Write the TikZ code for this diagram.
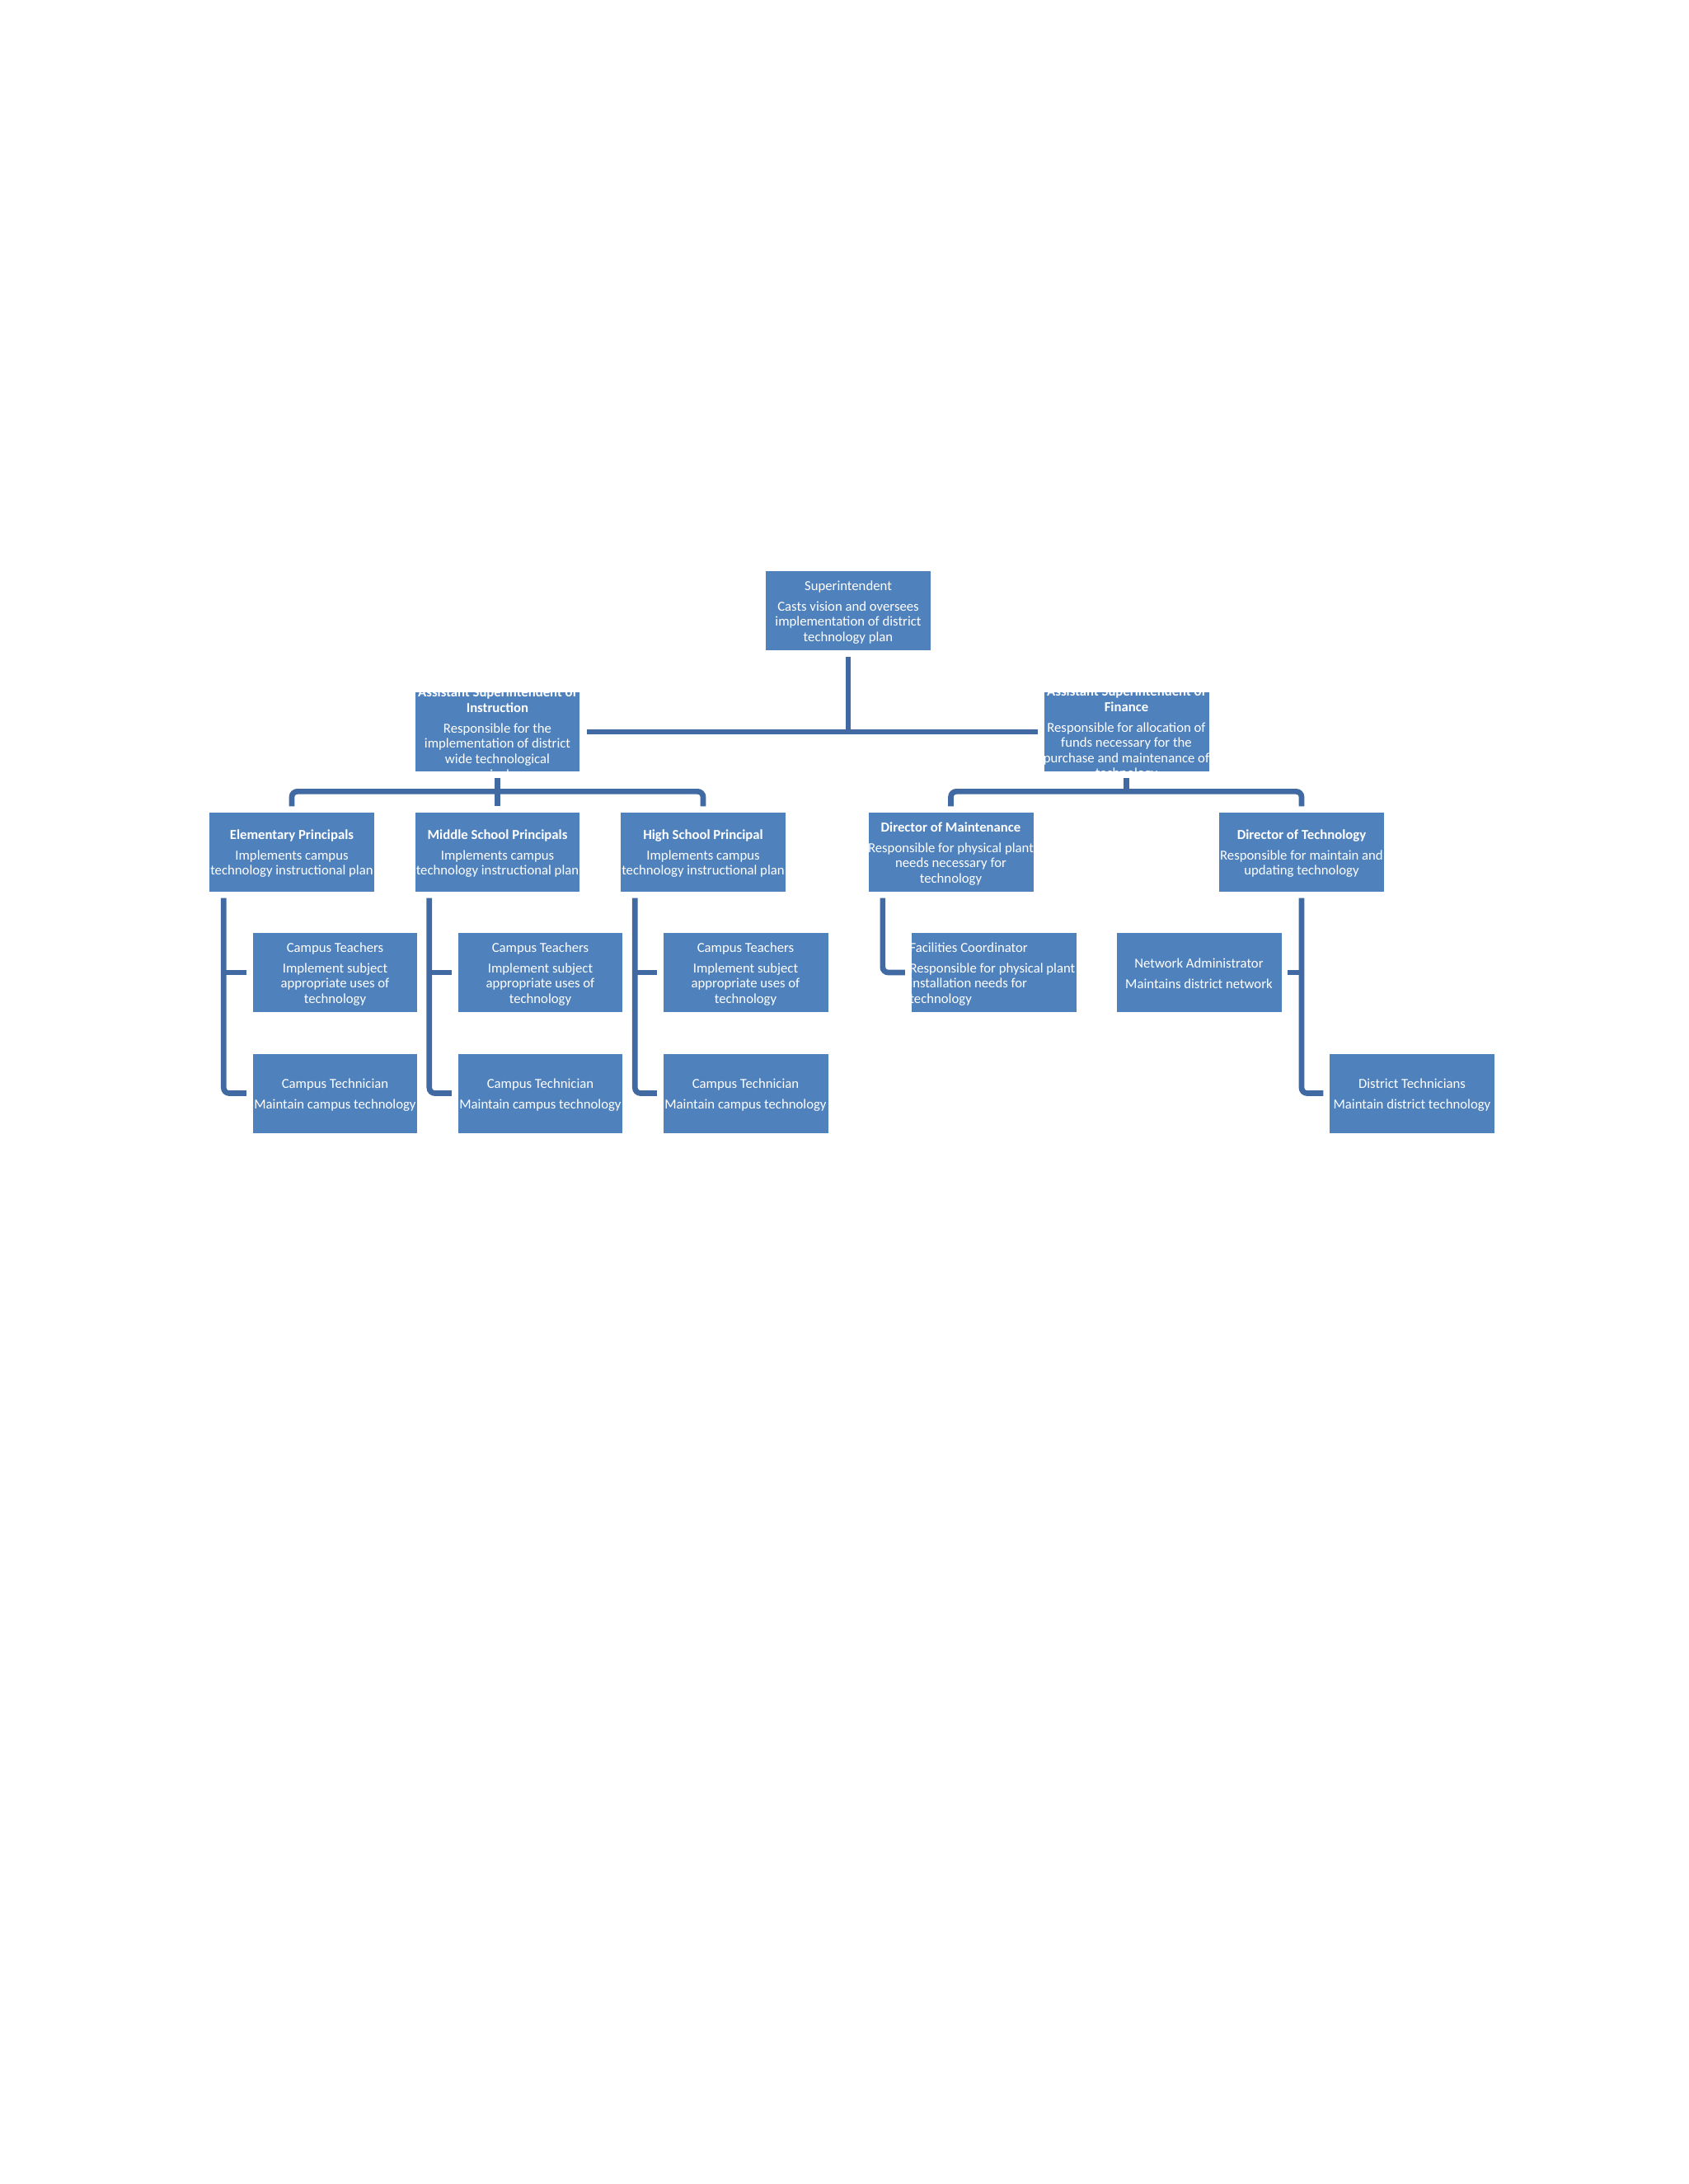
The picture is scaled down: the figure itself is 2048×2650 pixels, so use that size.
\documentclass[tikz,border=0pt]{standalone}
\usepackage{fontspec}
\setmainfont{Carlito}
\usetikzlibrary{calc}
\definecolor{boxblue}{HTML}{4F81BD}
\definecolor{lineblue}{HTML}{416AA3}
\tikzset{
  orgbox/.style={rectangle, fill=boxblue, inner sep=0pt, minimum width=59.77pt,
    minimum height=28.69pt},
  boxtext/.style={inner sep=0pt, align=center, text=white, yshift=-0.5pt,
    font=\fontsize{5}{5.53}\selectfont},
  conn/.style={draw=lineblue, line width=2pt},
}
\newcommand{\gapline}{\\[1.94pt]}
\begin{document}
\begin{tikzpicture}[x=0.29887pt, y=-0.29887pt]
\fill[white] (0,0) rectangle (2048,2650);
\useasboundingbox (0,0) rectangle (2048,2650);

% boxes
\node[orgbox] (sup) at (1029,741) {};
\node[orgbox] (instr) at (603.5,888) {};
\node[orgbox] (fin) at (1366.5,888) {};
\node[orgbox] (elem) at (354,1034) {};
\node[orgbox] (mid) at (603.5,1034) {};
\node[orgbox] (high) at (853,1034) {};
\node[orgbox] (maint) at (1153.5,1034) {};
\node[orgbox] (tech) at (1579,1034) {};
\node[orgbox] (eteach) at (406.5,1180) {};
\node[orgbox] (etech) at (406.5,1326.5) {};
\node[orgbox] (mteach) at (655.5,1180) {};
\node[orgbox] (mtech) at (655.5,1326.5) {};
\node[orgbox] (hteach) at (904.5,1180) {};
\node[orgbox] (htech) at (904.5,1326.5) {};
\node[orgbox] (fac) at (1205.5,1180) {};
\node[orgbox] (net) at (1454.5,1180) {};
\node[orgbox] (dtech) at (1713,1326.5) {};

% texts
\node[boxtext] (supT) at (sup) {Superintendent\gapline Casts vision and oversees\\implementation of district\\technology plan};
\begin{scope}
\clip (instr.south west) rectangle (instr.north east);
\node[boxtext] (instrT) at (instr) {\textbf{Assistant Superintendent of}\\\textbf{Instruction}\gapline Responsible for the\\implementation of district\\wide technological\\curriculum};
\end{scope}
\begin{scope}
\clip (fin.south west) rectangle (fin.north east);
\node[boxtext] (finT) at (fin) {\textbf{Assistant Superintendent of}\\\textbf{Finance}\gapline Responsible for allocation of\\funds necessary for the\\purchase and maintenance of\\technology};
\end{scope}
\node[boxtext] (elemT) at (elem) {\textbf{Elementary Principals}\gapline Implements campus\\technology instructional plan};
\node[boxtext] (midT) at (mid) {\textbf{Middle School Principals}\gapline Implements campus\\technology instructional plan};
\node[boxtext] (highT) at (high) {\textbf{High School Principal}\gapline Implements campus\\technology instructional plan};
\node[boxtext] (maintT) at (maint) {\textbf{Director of Maintenance}\gapline Responsible for physical plant\\needs necessary for\\technology};
\node[boxtext] (techT) at (tech) {\textbf{Director of Technology}\gapline Responsible for maintain and\\updating technology};
\node[boxtext] (eteachT) at (eteach) {Campus Teachers\gapline Implement subject\\appropriate uses of\\technology};
\node[boxtext] (etechT) at (etech) {Campus Technician\gapline Maintain campus technology};
\node[boxtext] (mteachT) at (mteach) {Campus Teachers\gapline Implement subject\\appropriate uses of\\technology};
\node[boxtext] (mtechT) at (mtech) {Campus Technician\gapline Maintain campus technology};
\node[boxtext] (hteachT) at (hteach) {Campus Teachers\gapline Implement subject\\appropriate uses of\\technology};
\node[boxtext] (htechT) at (htech) {Campus Technician\gapline Maintain campus technology};
\node[boxtext, align=left, anchor=west] (facT) at ($(fac.west)+(-2,0)$) {Facilities Coordinator\gapline Responsible for physical plant\\installation needs for\\technology};
\node[boxtext] (netT) at (net) {Network Administrator\gapline Maintains district network};
\node[boxtext] (dtechT) at (dtech) {District Technicians\gapline Maintain district technology};

% connectors level 1 -> 2
\draw[conn] ($(sup.south)+(0,7)$) -- (sup.south |- instr.east);
\draw[conn] ($(instr.east)+(8,0)$) -- ($(fin.west)+(-7,0)$);

% level 2 -> 3
\draw[conn] ($(instr.south)+(0,7)$) -- ($(mid.north)+(0,-7)$);
\draw[conn, rounded corners=2pt] ($(elem.north)+(0,-7)$) -- ++(0,-18) -| ($(high.north)+(0,-7)$);
\draw[conn] ($(fin.south)+(0,7)$) -- ++(0,18);
\draw[conn, rounded corners=2pt] ($(maint.north)+(0,-7)$) -- ++(0,-18) -| ($(tech.north)+(0,-7)$);

% level 3 -> 4
\coordinate (ev) at ($(elem.south west)+(18,7)$);
\draw[conn, rounded corners=2pt] (ev) |- ($(etech.west)+(-7,0)$);
\draw[conn] (ev |- eteach.west) -- ($(eteach.west)+(-7,0)$);

\coordinate (mv) at ($(mid.south west)+(18,7)$);
\draw[conn, rounded corners=2pt] (mv) |- ($(mtech.west)+(-7,0)$);
\draw[conn] (mv |- mteach.west) -- ($(mteach.west)+(-7,0)$);

\coordinate (hv) at ($(high.south west)+(18,7)$);
\draw[conn, rounded corners=2pt] (hv) |- ($(htech.west)+(-7,0)$);
\draw[conn] (hv |- hteach.west) -- ($(hteach.west)+(-7,0)$);

\coordinate (dv) at ($(maint.south west)+(18,7)$);
\draw[conn, rounded corners=2pt] (dv) |- ($(fac.west)+(-7,0)$);

\coordinate (tv) at ($(tech.south)+(0,7)$);
\draw[conn, rounded corners=2pt] (tv) |- ($(dtech.west)+(-7,0)$);
\draw[conn] ($(net.east)+(7,0)$) -- (tv |- net.east);
\end{tikzpicture}
\end{document}
